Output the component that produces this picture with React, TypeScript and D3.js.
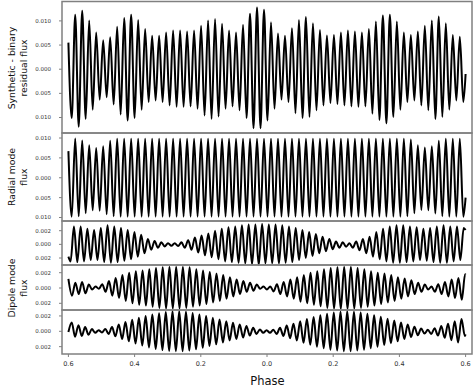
import React from "react";
import * as d3 from "d3";

// ---------- DATA (flux values in units of 1e-3) ----------
// x-axis ticks (phase) and their printed labels (minus signs are not printed in the reference)
const xTickValues = [-0.6, -0.4, -0.2, 0, 0.2, 0.4, 0.6];
const xTickLabels = ["0.6", "0.4", "0.2", "0.0", "0.2", "0.4", "0.6"];

const bigTickValues = [0.01, 0.005, 0, -0.005, -0.01];
const bigTickLabels = ["0.010", "0.005", "0.000", "0.005", "0.010"];
const smallTickValues = [0.002, 0, -0.002];
const smallTickLabels = ["0.002", "0.000", "0.002"];

// Panel 1: synthetic - binary residual flux (first extremum is a trough)
const residualStart = 5.5;
const residualEnd = -1.0;
const residualTroughs = [
  -10.1, -11.9, -10.3, -8.4, -6.3, -5.8, -7.3, -9.4, -10.6, -10.1, -8.4, -6.8, -6.5, -6.8,
  -7.5, -7.8, -7.8, -7.7, -8.2, -9.6, -10.3, -9.8, -8.2, -7.7, -8.5, -10.1, -12.2, -12.2,
  -10.6, -8.2, -6.3, -6.8, -9.1, -10.1, -9.9, -8.5, -7.5, -7.0, -7.2, -7.5, -7.7, -7.8, -7.7,
  -9.2, -10.5, -11.2, -9.9, -8.4, -6.8, -6.5, -7.5, -8.5, -10.3, -9.9, -8.4, -6.5, -6.8,
];
const residualPeaks = [
  11.25, 12.1, 10.1, 7.6, 6.0, 6.6, 8.8, 10.6, 11.25, 10.2, 8.3, 6.9, 6.9,
  7.6, 8.0, 8.0, 7.8, 8.0, 9.0, 10.1, 10.4, 9.4, 8.0, 7.6, 9.2, 11.5, 12.8, 12.3,
  9.7, 7.4, 6.9, 8.5, 10.2, 10.8, 9.5, 8.1, 7.0, 7.1, 7.6, 8.0, 7.8, 7.6,
  8.3, 9.9, 11.1, 11.25, 9.9, 7.6, 7.1, 7.8, 9.0, 10.1, 10.9, 9.5, 7.1, 6.7,
];

// Panel 2: radial mode flux (first extremum is a trough)
const radialStart = 6.7;
const radialEnd = -5.0;
const radialTroughs = [
  -9.8, -9.7, -8.9, -8.2, -8.3, -9.2, -9.7, -9.8, -9.8, -9.8, -9.8, -9.8, -9.8, -9.8,
  -9.8, -9.8, -9.8, -9.8, -9.8, -9.8, -9.8, -9.8, -9.8, -9.8, -9.8, -9.8, -9.8, -9.8,
  -9.8, -9.8, -9.8, -9.8, -9.8, -9.8, -9.8, -9.8, -9.8, -9.8, -9.8, -9.8, -9.8, -9.8,
  -9.8, -9.8, -9.8, -9.8, -9.8, -9.8, -9.7, -8.9, -8.1, -8.2, -9.0, -9.7, -9.8, -9.8, -9.8,
];
const radialPeaks = [
  9.9, 9.4, 8.2, 7.5, 7.9, 9.3, 9.8, 9.8, 9.8, 9.8, 9.8, 9.8, 9.8, 9.8,
  9.8, 9.8, 9.8, 9.8, 9.8, 9.8, 9.8, 9.8, 9.8, 9.8, 9.8, 9.8, 9.8, 9.8,
  9.8, 9.8, 9.8, 9.8, 9.8, 9.8, 9.8, 9.8, 9.8, 9.8, 9.8, 9.8, 9.8, 9.8,
  9.8, 9.8, 9.8, 9.8, 9.8, 9.8, 9.6, 8.2, 7.6, 7.9, 9.3, 9.8, 9.8, 9.8,
];

// Panel 3: dipole mode (first extremum is a trough)
const dipoleAStart = -1.8;
const dipoleAEnd = 2.1;
const dipoleATroughs = [
  -2.5, -2.6, -2.5, -2.3, -2.3, -2.6, -2.7, -2.6, -2.4, -2.2, -1.8, -1.3, -0.8, -0.5, -0.3,
  -0.2, -0.25, -0.5, -0.8, -1.2, -1.6, -1.9, -2.2, -2.5, -2.6, -2.7, -2.8, -2.9, -3.0,
  -2.8, -2.8, -2.8, -2.7, -2.6, -2.3, -2.0, -1.7, -1.3, -1.0, -0.7, -0.5, -0.35, -0.5, -0.85,
  -1.3, -1.8, -2.2, -2.5, -2.7, -2.7, -2.6, -2.5, -2.3, -2.4, -2.6, -2.7, -2.7, -2.5, -2.3,
];
const dipoleAPeaks = [
  2.6, 2.6, 2.3, 2.1, 2.4, 2.8, 2.6, 2.4, 2.1, 1.8, 1.4, 0.8, 0.5, 0.3, 0.15,
  0.15, 0.3, 0.6, 1.0, 1.3, 1.6, 2.0, 2.3, 2.5, 2.6, 2.8, 2.9, 2.9, 3.0,
  2.9, 2.9, 2.8, 2.6, 2.4, 2.1, 1.8, 1.5, 1.1, 0.8, 0.4, 0.3, 0.15, 0.4, 0.8,
  1.1, 1.8, 2.3, 2.6, 2.8, 2.8, 2.6, 2.5, 2.3, 2.4, 2.6, 2.8, 2.6, 2.6, 2.4,
];

// Panel 4: dipole mode (first extremum is a trough)
const dipoleBStart = 1.2;
const dipoleBEnd = 1.75;
const dipoleBTroughs = [
  -1.0, -0.8, -0.7, -0.2, -0.1, -0.5, -1.0, -1.3, -1.7, -2.0, -2.2, -2.3, -2.45, -2.6, -2.7,
  -2.7, -2.7, -2.6, -2.45, -2.3, -2.1, -1.9, -1.7, -1.4, -1.1, -0.8, -0.5, -0.35, -0.1,
  -0.2, -0.45, -0.8, -1.1, -1.4, -1.8, -2.0, -2.2, -2.4, -2.6, -2.7, -2.75, -2.75, -2.7, -2.6,
  -2.45, -2.3, -2.1, -1.9, -1.7, -1.4, -1.1, -0.8, -0.5, -0.2, -0.5, -0.8, -1.1, -1.3, -1.55,
];
const dipoleBPeaks = [
  0.7, 0.8, 0.45, 0.2, 0.5, 0.9, 1.3, 1.7, 2.0, 2.2, 2.3, 2.45, 2.6, 2.7, 2.75,
  2.75, 2.75, 2.7, 2.45, 2.3, 2.1, 1.9, 1.7, 1.4, 1.1, 0.9, 0.7, 0.45, 0.2,
  0.2, 0.5, 0.8, 1.1, 1.4, 1.7, 2.0, 2.2, 2.45, 2.6, 2.7, 2.75, 2.75, 2.6, 2.45,
  2.2, 2.0, 1.9, 1.7, 1.4, 1.25, 1.0, 0.7, 0.45, 0.2, 0.5, 0.8, 1.1, 1.3, 1.8,
];

// Panel 5: dipole mode (first extremum is a peak)
const dipoleCStart = -0.1;
const dipoleCEnd = -0.4;
const dipoleCPeaks = [
  1.15, 0.8, 0.55, 0.3, 0.15, 0.3, 0.55, 0.9, 1.2, 1.5, 1.75, 2.0, 2.2, 2.35, 2.5,
  2.6, 2.6, 2.55, 2.4, 2.2, 2.0, 1.75, 1.55, 1.3, 1.1, 0.9, 0.7, 0.45, 0.25,
  0.15, 0.2, 0.45, 0.75, 1.0, 1.3, 1.6, 1.85, 2.1, 2.3, 2.45, 2.55, 2.6, 2.55, 2.45,
  2.3, 2.1, 1.9, 1.65, 1.4, 1.15, 0.9, 0.6, 0.35, 0.2, 0.4, 0.7, 1.0, 1.3, 1.6,
];
const dipoleCTroughs = [
  -0.7, -0.6, -0.45, -0.2, -0.15, -0.35, -0.65, -1.0, -1.3, -1.6, -1.85, -2.1, -2.3, -2.45, -2.55,
  -2.6, -2.6, -2.5, -2.35, -2.15, -1.9, -1.7, -1.45, -1.2, -1.0, -0.8, -0.55, -0.35, -0.2,
  -0.2, -0.35, -0.6, -0.9, -1.2, -1.5, -1.75, -2.0, -2.2, -2.4, -2.5, -2.6, -2.6, -2.5, -2.4,
  -2.2, -2.0, -1.8, -1.55, -1.3, -1.0, -0.75, -0.5, -0.3, -0.35, -0.55, -0.85, -1.15, -1.45, -0.6,
];

// phase of the first extremum and the half period (phase units)
const phaseStart = -0.6;
const phaseEnd = 0.6;
const residualFirst = -0.590;
const residualHalf = 0.010563;
const dipoleAFirst = -0.5934;
const dipoleBFirst = -0.5891;
const dipoleCFirst = -0.5900;
const dipoleHalf = 0.010151;

// ---------- helpers ----------
type Pt = [number, number];
function buildSeries(
  startVal: number,
  endVal: number,
  first: number[],
  second: number[],
  firstPhase: number,
  half: number
): Pt[] {
  const pts: Pt[] = [[phaseStart, startVal * 1e-3]];
  const n = Math.max(first.length, second.length);
  let i = 0;
  for (let k = 0; k < n; k++) {
    if (k < first.length) {
      pts.push([firstPhase + i * half, first[k] * 1e-3]);
      i++;
    }
    if (k < second.length) {
      pts.push([firstPhase + i * half, second[k] * 1e-3]);
      i++;
    }
  }
  const last = pts[pts.length - 1][0];
  if (last < phaseEnd - 1e-4) pts.push([phaseEnd, endVal * 1e-3]);
  return pts;
}

const FONT = "'DejaVu Sans', 'Liberation Sans', sans-serif";
const SPINE = "#808080";

export default function App() {
  const W = 474;
  const H = 388;
  const left = 62;
  const right = 472;
  const x = d3.scaleLinear().domain([-0.6, 0.6]).range([68.4, 465.6]);

  const panels = [
    {
      top: 1.5, bottom: 133, zero: 69.2, pxPerUnit: 4830,
      ticks: bigTickValues, labels: bigTickLabels,
      data: buildSeries(residualStart, residualEnd, residualTroughs, residualPeaks, residualFirst, residualHalf),
    },
    {
      top: 133, bottom: 221, zero: 177.75, pxPerUnit: 3975,
      ticks: bigTickValues, labels: bigTickLabels,
      data: buildSeries(radialStart, radialEnd, radialTroughs, radialPeaks, residualFirst, residualHalf),
    },
    {
      top: 221, bottom: 265, zero: 244.35, pxPerUnit: 6825,
      ticks: smallTickValues, labels: smallTickLabels,
      data: buildSeries(dipoleAStart, dipoleAEnd, dipoleATroughs, dipoleAPeaks, dipoleAFirst, dipoleHalf),
    },
    {
      top: 265, bottom: 310, zero: 288, pxPerUnit: 7650,
      ticks: smallTickValues, labels: smallTickLabels,
      data: buildSeries(dipoleBStart, dipoleBEnd, dipoleBTroughs, dipoleBPeaks, dipoleBFirst, dipoleHalf),
    },
    {
      top: 310, bottom: 354, zero: 331.3, pxPerUnit: 7675,
      ticks: smallTickValues, labels: smallTickLabels,
      data: buildSeries(dipoleCStart, dipoleCEnd, dipoleCPeaks, dipoleCTroughs, dipoleCFirst, dipoleHalf),
    },
  ];

  const yLabels = [
    { lines: ["Synthetic - binary", "residual flux"], cy: 68 },
    { lines: ["Radial mode", "flux"], cy: 177 },
    { lines: ["Dipole mode", "flux"], cy: 288 },
  ];

  return (
    <svg width={W} height={H} style={{ position: "absolute", left: 0, top: 0, background: "#fff" }}>
      <rect x={0} y={0} width={W} height={H} fill="#fff" />
      {panels.map((p, pi) => {
        const y = d3
          .scaleLinear()
          .domain([(p.zero - p.bottom) / p.pxPerUnit, (p.zero - p.top) / p.pxPerUnit])
          .range([p.bottom, p.top]);
        const line = d3
          .line<Pt>()
          .x((d) => x(d[0]))
          .y((d) => y(d[1]))
          .curve(d3.curveMonotoneX);
        return (
          <g key={pi}>
            <path d={line(p.data) || ""} fill="none" stroke="#000" strokeWidth={2} strokeLinejoin="round" />
            {p.ticks.map((t, ti) => (
              <g key={ti}>
                <line x1={left - 3} x2={left} y1={y(t)} y2={y(t)} stroke={SPINE} strokeWidth={1} />
                <text
                  x={left - 11}
                  y={y(t)}
                  dy="0.35em"
                  textAnchor="end"
                  fontFamily={FONT}
                  fontSize={5.5}
                  fill="#333"
                >
                  {p.labels[ti]}
                </text>
              </g>
            ))}
            <rect
              x={left}
              y={p.top}
              width={right - left}
              height={p.bottom - p.top}
              fill="none"
              stroke={SPINE}
              strokeWidth={1.5}
            />
          </g>
        );
      })}
      {xTickValues.map((t, i) => (
        <g key={i}>
          <line x1={x(t)} x2={x(t)} y1={354} y2={357} stroke={SPINE} strokeWidth={1} />
          <text x={x(t)} y={365.5} textAnchor="middle" fontFamily={FONT} fontSize={6.5} fill="#333">
            {xTickLabels[i]}
          </text>
        </g>
      ))}
      <text x={267.5} y={385} textAnchor="middle" fontFamily={FONT} fontSize={11.5} fill="#111">
        Phase
      </text>
      {yLabels.map((l, i) => (
        <g key={i}>
          {l.lines.map((s, j) => (
            <text
              key={j}
              transform={`translate(${j === 0 ? 14.5 : 27},${l.cy}) rotate(-90)`}
              textAnchor="middle"
              fontFamily={FONT}
              fontSize={9.3}
              fill="#111"
            >
              {s}
            </text>
          ))}
        </g>
      ))}
    </svg>
  );
}
